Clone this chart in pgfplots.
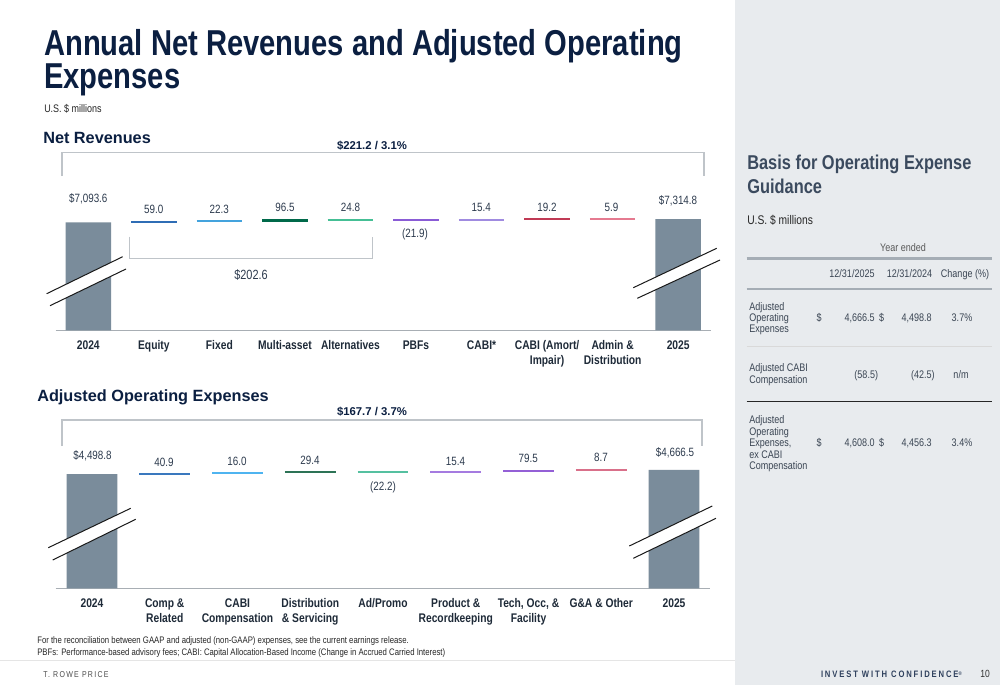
\documentclass[border=0pt]{standalone}
\usepackage{fontspec}
\setmainfont{Liberation Sans}
\newfontfamily\narrow{Liberation Sans}[FakeStretch=0.82]
\newfontfamily\titlefont{Liberation Sans}[FakeStretch=0.81]
\newfontfamily\spacedA{Liberation Sans}[FakeStretch=0.82,LetterSpace=15]
\newfontfamily\spacedB{Liberation Sans}[FakeStretch=0.82,LetterSpace=20]
\usepackage{pgfplots}
\pgfplotsset{compat=1.18}
\definecolor{navy}{HTML}{0B1F41}
\definecolor{panel}{HTML}{E8EBEE}
\definecolor{barcol}{HTML}{7A8C9B}
\definecolor{axisgray}{HTML}{A8AEB4}
\definecolor{brk}{HTML}{BFC4C9}
\definecolor{catcol}{HTML}{1E2A38}
\definecolor{valcol}{HTML}{2D3B4E}
\definecolor{ptitle}{HTML}{3B4A5E}
\definecolor{tabtxt}{HTML}{3A4553}
\definecolor{rulegray}{HTML}{A5ADB5}
\definecolor{segEq}{HTML}{2F6DB5}
\definecolor{segFx}{HTML}{44A3DD}
\definecolor{segMa}{HTML}{00694A}
\definecolor{segAl}{HTML}{45BF95}
\definecolor{segPb}{HTML}{8A5CD6}
\definecolor{segCa}{HTML}{A08BE0}
\definecolor{segCm}{HTML}{C03A55}
\definecolor{segAd}{HTML}{E57A90}
\definecolor{opCo}{HTML}{3A78BE}
\definecolor{opCa}{HTML}{4FB4F0}
\definecolor{opDi}{HTML}{2D7356}
\definecolor{opAd}{HTML}{55C0A0}
\definecolor{opPr}{HTML}{A57BE0}
\definecolor{opTe}{HTML}{9460D6}
\definecolor{opGa}{HTML}{D9708A}
\tikzset{
  val/.style={anchor=base, font=\narrow\fontsize{9}{10}\selectfont, text=valcol},
  tab/.style={font=\narrow\fontsize{8.25}{9}\selectfont, text=tabtxt},
}
\pgfplotsset{wfstep/.style={no marks, line cap=butt, line width=#1}}
\begin{document}
\begin{tikzpicture}
\begin{scope}[x=0.75pt,y=-0.75pt]
\fill[white] (0,0) rectangle (1000,685);
\fill[panel] (735,0) rectangle (1000,685);
% titles
\node[anchor=base west, inner sep=0pt, font=\titlefont\bfseries\fontsize{27}{27}\selectfont, text=navy] at (44,55.7) {Annual Net Revenues and Adjusted Operating};
\node[anchor=base west, inner sep=0pt, font=\titlefont\bfseries\fontsize{27}{27}\selectfont, text=navy] at (44,88.3) {Expenses};
\node[anchor=base west, inner sep=0pt, font=\narrow\fontsize{8.2}{9}\selectfont, text=black!85] at (44,113) {U.S. \$ millions};
\node[anchor=base west, inner sep=0pt, font=\bfseries\fontsize{12.2}{13}\selectfont, text=navy] at (43,143.3) {Net Revenues};
\node[anchor=base, inner sep=0pt, font=\bfseries\fontsize{8.5}{9}\selectfont, text=navy] at (372,149) {\$221.2 / 3.1\%};
\node[anchor=base west, inner sep=0pt, font=\bfseries\fontsize{12.2}{13}\selectfont, text=navy] at (37,401) {Adjusted Operating Expenses};
\node[anchor=base, inner sep=0pt, font=\bfseries\fontsize{8.5}{9}\selectfont, text=navy] at (372,415) {\$167.7 / 3.7\%};
% brackets
\draw[brk, line width=1pt] (62,176) -- (62,152.5) -- (704,152.5) -- (704,176);
\draw[brk, line width=1pt] (129.3,236.7) -- (129.3,258.3) -- (372.3,258.3) -- (372.3,236.7);
\node[anchor=base, inner sep=0pt, font=\narrow\fontsize{10}{11}\selectfont, text=valcol] at (251,279) {\$202.6};
\draw[brk, line width=1pt] (62,446) -- (62,420) -- (702,420) -- (702,446);
% right panel
\node[anchor=base west, inner sep=0pt, font=\narrow\bfseries\fontsize{15}{16}\selectfont, text=ptitle] at (747,169) {Basis for Operating Expense};
\node[anchor=base west, inner sep=0pt, font=\narrow\bfseries\fontsize{15}{16}\selectfont, text=ptitle] at (747,193) {Guidance};
\node[anchor=base west, inner sep=0pt, font=\narrow\fontsize{9.4}{10}\selectfont, text=black!85] at (747,224) {U.S. \$ millions};
\node[tab, anchor=base, inner sep=0pt, text=black!65] at (903,251.8) {Year ended};
\draw[rulegray, line width=2.2pt] (746.7,258.3) -- (992.3,258.3);
\node[tab, anchor=base, inner sep=0pt] at (852,277) {12/31/2025};
\node[tab, anchor=base, inner sep=0pt] at (909.5,277) {12/31/2024};
\node[tab, anchor=base, inner sep=0pt] at (965,277) {Change (\%)};
\draw[rulegray, line width=2.2pt] (746.7,289) -- (992.3,289);
% row 1
\node[tab, anchor=base west, inner sep=0pt] at (749,310) {Adjusted};
\node[tab, anchor=base west, inner sep=0pt] at (749,321.6) {Operating};
\node[tab, anchor=base west, inner sep=0pt] at (749,332.6) {Expenses};
\node[tab, anchor=base, inner sep=0pt] at (819,321.6) {\$};
\node[tab, anchor=base east, inner sep=0pt] at (875,321.6) {4,666.5};
\node[tab, anchor=base, inner sep=0pt] at (881.7,321.6) {\$};
\node[tab, anchor=base east, inner sep=0pt] at (932,321.6) {4,498.8};
\node[tab, anchor=base, inner sep=0pt] at (962,321.6) {3.7\%};
\draw[black!15, line width=0.6pt] (746.7,346) -- (992.3,346);
% row 2
\node[tab, anchor=base west, inner sep=0pt] at (749,371) {Adjusted CABI};
\node[tab, anchor=base west, inner sep=0pt] at (749,383) {Compensation};
\node[tab, anchor=base east, inner sep=0pt] at (878.3,378) {(58.5)};
\node[tab, anchor=base east, inner sep=0pt] at (935,378) {(42.5)};
\node[tab, anchor=base, inner sep=0pt] at (961,378) {n/m};
\draw[black!85, line width=1.1pt] (746.7,401.7) -- (992.3,401.7);
% row 3
\node[tab, anchor=base west, inner sep=0pt] at (749,423.6) {Adjusted};
\node[tab, anchor=base west, inner sep=0pt] at (749,435.2) {Operating};
\node[tab, anchor=base west, inner sep=0pt] at (749,446.6) {Expenses,};
\node[tab, anchor=base west, inner sep=0pt] at (749,458) {ex CABI};
\node[tab, anchor=base west, inner sep=0pt] at (749,469.2) {Compensation};
\node[tab, anchor=base, inner sep=0pt] at (819,446.6) {\$};
\node[tab, anchor=base east, inner sep=0pt] at (875,446.6) {4,608.0};
\node[tab, anchor=base, inner sep=0pt] at (881.7,446.6) {\$};
\node[tab, anchor=base east, inner sep=0pt] at (932,446.6) {4,456.3};
\node[tab, anchor=base, inner sep=0pt] at (962,446.6) {3.4\%};
% footer
\node[anchor=base west, inner sep=0pt, font=\narrow\fontsize{7.1}{8}\selectfont, text=black!85] at (37,643.5) {For the reconciliation between GAAP and adjusted (non-GAAP) expenses, see the current earnings release.};
\node[anchor=base west, inner sep=0pt, font=\narrow\fontsize{7.1}{8}\selectfont, text=black!85] at (37,655.5) {PBFs: Performance-based advisory fees; CABI: Capital Allocation-Based Income (Change in Accrued Carried Interest)};
\draw[black!10, line width=0.6pt] (0,660) -- (735,660);
\node[anchor=base west, inner sep=0pt, font=\spacedA\fontsize{6.4}{7}\selectfont, text=black!70] at (43,677.5) {T. ROWE PRICE};
\node[anchor=base east, inner sep=0pt, font=\spacedB\bfseries\fontsize{7}{8}\selectfont, text=navy!85] at (962,677.5) {INVEST WITH CONFIDENCE\raisebox{0.5ex}{\fontsize{4}{4}\selectfont\textregistered}};
\node[anchor=base, inner sep=0pt, font=\narrow\fontsize{7.8}{8}\selectfont, text=black!80] at (985,677.5) {10};
\end{scope}

% ---------- Net revenues waterfall ----------
\begin{axis}[
  at={(41.63pt,-247.7pt)}, anchor=south west,
  scale only axis, width=491.6pt, height=114pt,
  xmin=-0.5, xmax=9.5, ymin=0, ymax=10000,
  axis x line*=bottom, axis y line=none,
  x axis line style={draw=axisgray, line width=1pt, -},
  ytick=\empty,
  xtick={0,1,2,3,4,5,6,7,8,9},
  xticklabels={2024,Equity,Fixed,Multi-asset,Alternatives,PBFs,CABI*,{CABI (Amort/\\Impair)},{Admin \&\\Distribution},2025},
  major tick length=0pt,
  xticklabel style={anchor=north, inner sep=0pt, yshift=-7.5pt, align=center, font=\narrow\bfseries\fontsize{9.4}{11.2}\selectfont, text=catcol},
  clip=false,
]
\addplot[ybar, bar shift=0pt, bar width=0.694, fill=barcol, draw=none] coordinates {(0,7093.6) (9,7314.8)};
% step segments at the midpoint of each change (start/end cumulative totals)
\addplot[wfstep=1.4pt, draw=segEq] coordinates {(0.653,7123.1) (1.347,7123.1)};
\addplot[wfstep=1.4pt, draw=segFx] coordinates {(1.653,7163.75) (2.347,7163.75)};
\addplot[wfstep=2.0pt, draw=segMa] coordinates {(2.653,7223.15) (3.347,7223.15)};
\addplot[wfstep=1.5pt, draw=segAl] coordinates {(3.653,7283.8) (4.347,7283.8)};
\addplot[wfstep=1.5pt, draw=segPb] coordinates {(4.653,7285.25) (5.347,7285.25)};
\addplot[wfstep=1.4pt, draw=segCa] coordinates {(5.653,7282.0) (6.347,7282.0)};
\addplot[wfstep=1.4pt, draw=segCm] coordinates {(6.653,7299.3) (7.347,7299.3)};
\addplot[wfstep=1.4pt, draw=segAd] coordinates {(7.653,7311.85) (8.347,7311.85)};
\end{axis}

% ---------- Operating expenses waterfall ----------
\begin{axis}[
  at={(41.7pt,-441.2pt)}, anchor=south west,
  scale only axis, width=491.1pt, height=114.2pt,
  xmin=-0.5, xmax=8.5, ymin=0, ymax=6000,
  axis x line*=bottom, axis y line=none,
  x axis line style={draw=axisgray, line width=1pt, -},
  ytick=\empty,
  xtick={0,1,2,3,4,5,6,7,8},
  xticklabels={2024,{Comp \&\\Related},{CABI\\Compensation},{Distribution\\\& Servicing},Ad/Promo,{Product \&\\Recordkeeping},{Tech, Occ, \&\\Facility},G\&A \& Other,2025},
  major tick length=0pt,
  xticklabel style={anchor=north, inner sep=0pt, yshift=-7.5pt, align=center, font=\narrow\bfseries\fontsize{9.4}{11.2}\selectfont, text=catcol},
  clip=false,
]
\addplot[ybar, bar shift=0pt, bar width=0.695, fill=barcol, draw=none] coordinates {(0,4498.8) (8,4666.5)};
\addplot[wfstep=1.5pt, draw=opCo] coordinates {(0.652,4519.25) (1.348,4519.25)};
\addplot[wfstep=1.4pt, draw=opCa] coordinates {(1.652,4547.7) (2.348,4547.7)};
\addplot[wfstep=1.5pt, draw=opDi] coordinates {(2.652,4570.4) (3.348,4570.4)};
\addplot[wfstep=1.4pt, draw=opAd] coordinates {(3.652,4574.0) (4.348,4574.0)};
\addplot[wfstep=1.4pt, draw=opPr] coordinates {(4.652,4570.6) (5.348,4570.6)};
\addplot[wfstep=2.0pt, draw=opTe] coordinates {(5.652,4618.05) (6.348,4618.05)};
\addplot[wfstep=1.4pt, draw=opGa] coordinates {(6.652,4662.15) (7.348,4662.15)};
\end{axis}

\begin{scope}[x=0.75pt,y=-0.75pt]
% break marks
\foreach \a/\b/\c/\d in {{46.7,293.7}/{122.7,256.7}/{126,269}/{50,305.7},
                         {633.3,287.7}/{716.7,248.3}/{720,260}/{637.3,298.3},
                         {48.3,547.7}/{130.7,508.3}/{135.7,519.3}/{52.7,560},
                         {629.3,546}/{712.3,506}/{716,518.3}/{633.3,558.3}}{
  \fill[white] (\a) -- (\b) -- (\c) -- (\d) -- cycle;
  \draw[black!90, line width=0.75pt] (\a) -- (\b) (\d) -- (\c);
}
% value labels top
\node[val] at (88.3,202.3) {\$7,093.6};
\node[val] at (153.7,213.3) {59.0};
\node[val] at (219.3,213.5) {22.3};
\node[val] at (285,211.5) {96.5};
\node[val] at (350.5,211.2) {24.8};
\node[val] at (415,237.3) {(21.9)};
\node[val] at (481.2,211.2) {15.4};
\node[val] at (547,211.2) {19.2};
\node[val] at (611.5,211.2) {5.9};
\node[val] at (678,204.2) {\$7,314.8};
% value labels bottom
\node[val] at (92.5,459) {\$4,498.8};
\node[val] at (164,466) {40.9};
\node[val] at (237,465) {16.0};
\node[val] at (310,464) {29.4};
\node[val] at (383,490) {(22.2)};
\node[val] at (455.5,465) {15.4};
\node[val] at (528.3,462.7) {79.5};
\node[val] at (601,461) {8.7};
\node[val] at (675,456) {\$4,666.5};
\end{scope}
\pgfresetboundingbox
\path[use as bounding box] (0pt,0pt) rectangle (750pt,-513.75pt);
\end{tikzpicture}
\end{document}
